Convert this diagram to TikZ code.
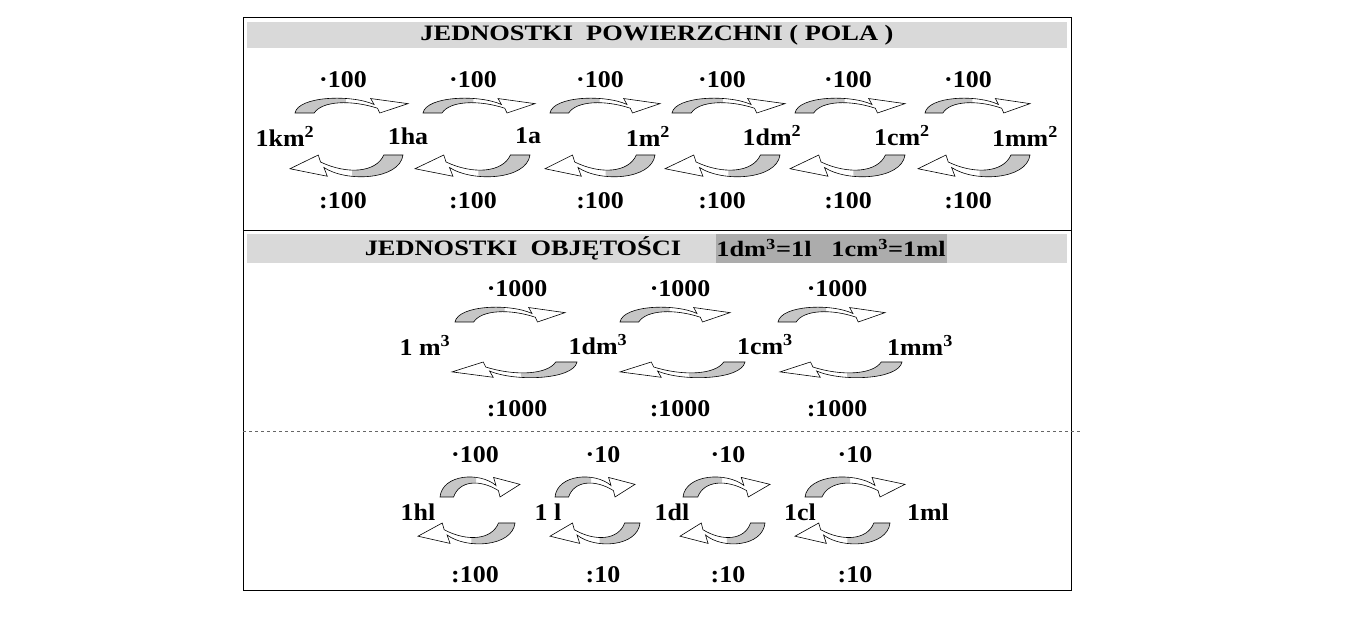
\documentclass[tikz,border=0pt]{standalone}
\usepackage{fontspec}
\setmainfont{Liberation Serif}
\begin{document}
\begin{tikzpicture}[x=1pt,y=1pt,
  lab/.style={font=\fontsize{24}{24}\selectfont\bfseries, inner sep=0pt, xscale=1.08},
  hdr/.style={font=\fontsize{22}{22}\selectfont\bfseries, inner sep=0pt, xscale=1.2}]
\useasboundingbox (0,0) rectangle (1355,624);
\newcommand\arrowpath{(0,0) .. controls (0.03,1.0) and (0.5,1.1) .. (0.7,0.5) -- (0.67,0.85) -- (1,0.55) -- (0.75,0.0) -- (0.73,0.28) .. controls (0.5,0.78) and (0.24,0.72) .. (0.17,0) -- cycle}
\newcommand\carrow[5]{%
 \begin{scope}[shift={(#1,{624-(#2)})},xscale=#3,yscale=#4,#5]
  \fill[white] \arrowpath;
  \begin{scope}\clip (-0.1,-0.1) rectangle (0.45,1.2); \fill[gray!45] \arrowpath; \end{scope}
  \draw[line width=0.6pt] \arrowpath;
 \end{scope}}
\newcommand\toparr[4]{\carrow{#1}{#4}{#2-#1}{#4-#3}{}}
\newcommand\botarr[4]{\carrow{#2}{#3}{#2-#1}{#4-#3}{rotate=180}}
\newcommand\md{\textperiodcentered}
% frame
\draw[line width=0.8pt] (243,624-17) rectangle (1071,624-590);
\draw[line width=0.8pt] (243,624-230) -- (1071,624-230);
\fill[gray!30] (247,624-22) rectangle (1067,624-48);
\fill[gray!30] (247,624-234) rectangle (1067,624-263);
\fill[gray!65] (716,624-234) rectangle (947,624-263);
\draw[dashed,gray!80!black,line width=0.6pt] (243,624-431) -- (1080,624-431);
\node[hdr] (h1) at (657,624-35) {JEDNOSTKI\ \ POWIERZCHNI ( POLA )};
\node[hdr] (h2) at (523,624-248) {JEDNOSTKI\ \ OBJĘTOŚCI};
\node[hdr] (h3) at (831,624-248) {1dm\textsuperscript{3}=1l\ \ \ 1cm\textsuperscript{3}=1ml};
% row 1
\foreach \n/\t/\x in {a/1km\textsuperscript{2}/285,b/1ha/408,c/1a/528,d/1m\textsuperscript{2}/648,e/1dm\textsuperscript{2}/772,f/1cm\textsuperscript{2}/902,g/1mm\textsuperscript{2}/1025}
  \node[lab] (r1\n) at (\x,624-136) {\t};
\foreach \i/\x in {1/343,2/473,3/600,4/722,5/848,6/968}{
  \node[lab] (m1\i) at (\x,624-80) {\md100};
  \node[lab] (d1\i) at (\x,624-201) {:100};}
\toparr{295}{408}{96}{113}\toparr{423}{535}{96}{113}\toparr{550}{660}{96}{113}
\toparr{672}{785}{96}{113}\toparr{795}{905}{96}{113}\toparr{925}{1030}{96}{113}
\botarr{290}{403}{155}{180}\botarr{415}{530}{155}{180}\botarr{545}{655}{155}{180}
\botarr{665}{780}{155}{180}\botarr{790}{905}{155}{180}\botarr{918}{1030}{155}{180}
% row 2
\foreach \n/\t/\x in {a/1 m\textsuperscript{3}/425,b/1dm\textsuperscript{3}/598,c/1cm\textsuperscript{3}/765,d/1mm\textsuperscript{3}/920}
  \node[lab] (r2\n) at (\x,624-345) {\t};
\foreach \i/\x in {1/517,2/680,3/837}{
  \node[lab] (m2\i) at (\x,624-289) {\md1000};
  \node[lab] (d2\i) at (\x,624-409) {:1000};}
\toparr{455}{565}{305}{322}\toparr{620}{730}{305}{322}\toparr{778}{885}{305}{322}
\botarr{452}{577}{362}{380}\botarr{620}{745}{362}{380}\botarr{780}{902}{362}{380}
% row 3
\foreach \n/\t/\x in {a/1hl/418,b/1 l/548,c/1dl/672,d/1cl/800,e/1ml/928}
  \node[lab] (r3\n) at (\x,624-512) {\t};
\foreach \i/\x/\v in {1/475/100,2/603/10,3/728/10,4/855/10}{
  \node[lab] (m3\i) at (\x,624-455) {\md\v};
  \node[lab] (d3\i) at (\x,624-575) {:\v};}
\toparr{440}{520}{474}{497}\toparr{555}{635}{474}{497}\toparr{683}{770}{474}{497}\toparr{805}{905}{474}{497}
\botarr{418}{515}{523}{547}\botarr{550}{640}{523}{547}\botarr{680}{765}{523}{547}\botarr{795}{890}{523}{547}
\end{tikzpicture}
\end{document}
